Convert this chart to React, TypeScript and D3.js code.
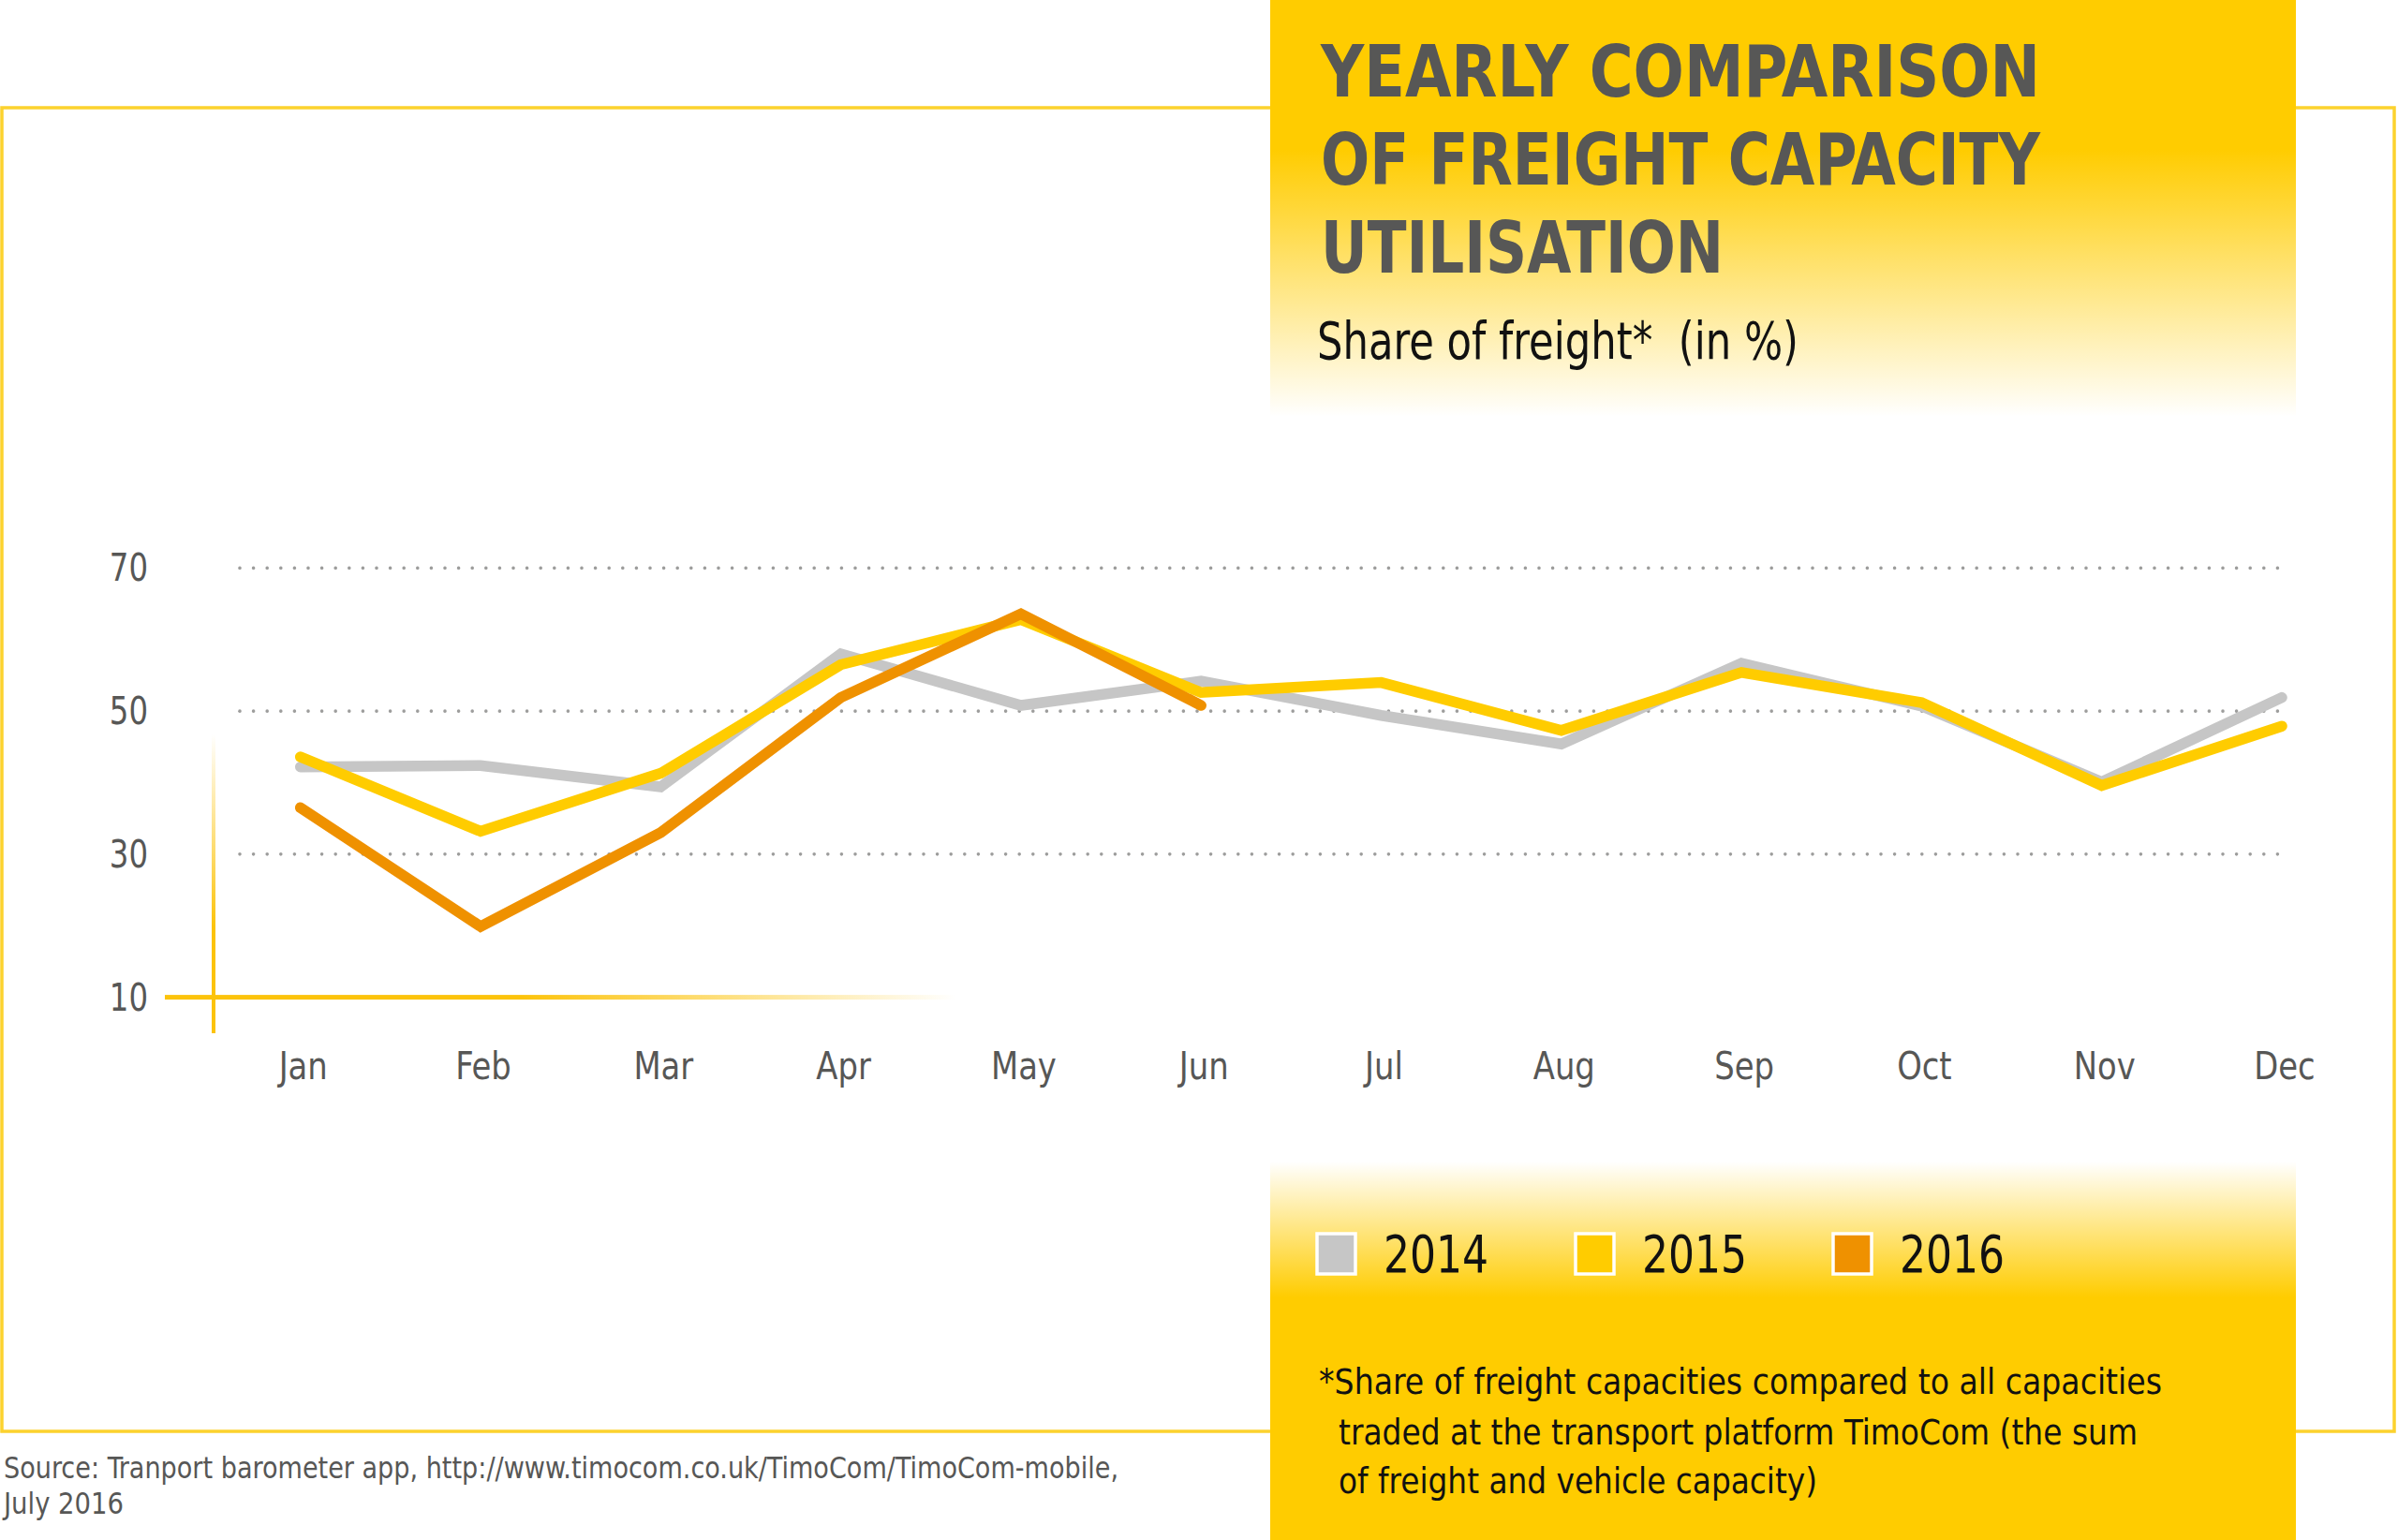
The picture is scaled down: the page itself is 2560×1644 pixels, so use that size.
import React, { useRef, useEffect } from 'react';
import * as d3 from 'd3';

// Share of freight capacities per month (in %)
const MONTHS = ['Jan', 'Feb', 'Mar', 'Apr', 'May', 'Jun', 'Jul', 'Aug', 'Sep', 'Oct', 'Nov', 'Dec'];
const SHARE_2014 = [42.2, 42.4, 39.4, 58.0, 50.8, 54.2, 49.4, 45.4, 56.7, 50.7, 40.1, 51.9];
const SHARE_2015 = [43.6, 33.2, 41.3, 56.5, 62.8, 52.6, 54.0, 47.3, 55.4, 51.2, 39.6, 47.9];
const SHARE_2016 = [36.5, 19.9, 33.0, 51.9, 63.6, 50.8];
const YEARS = ['2014', '2015', '2016'];
const Y_TICKS = [10, 30, 50, 70];
const GRID_TICKS = [30, 50, 70];

const TITLE_LINES = ['YEARLY COMPARISON', 'OF FREIGHT CAPACITY', 'UTILISATION'];
const SUBTITLE = 'Share of freight*\u00a0 (in %)';
const FOOTNOTE_LINES = [
  '*Share of freight capacities compared to all capacities',
  'traded at the transport platform TimoCom (the sum',
  'of freight and vehicle capacity)',
];
const SOURCE_LINES = [
  'Source: Tranport barometer app, http://www.timocom.co.uk/TimoCom/TimoCom-mobile,',
  'July 2016',
];

const W = 2560;
const H = 1644;
const FONT = '"DejaVu Sans Condensed", "DejaVu Sans", sans-serif';
const TEXT_GREY = '#575756';
const YELLOW = '#ffcc00';
const COLORS: Record<string, string> = { '2014': '#c6c6c6', '2015': '#ffcc00', '2016': '#ef9100' };

export default function App() {
  const svgRef = useRef<SVGSVGElement>(null);

  useEffect(() => {
    if (!svgRef.current) return;
    const svg = d3.select(svgRef.current);
    svg.selectAll('*').remove();

    svg.append('rect').attr('width', W).attr('height', H).attr('fill', '#ffffff');

    const defs = svg.append('defs');
    const grad = (id: string, x1: number, y1: number, x2: number, y2: number, stops: [number, string, number][]) => {
      const lg = defs.append('linearGradient').attr('id', id)
        .attr('gradientUnits', 'userSpaceOnUse')
        .attr('x1', x1).attr('y1', y1).attr('x2', x2).attr('y2', y2);
      stops.forEach(([o, c, a]) => lg.append('stop').attr('offset', o).attr('stop-color', c).attr('stop-opacity', a));
    };
    grad('titleFade', 0, 160, 0, 445, [[0, YELLOW, 1], [1, YELLOW, 0]]);
    grad('legendFade', 0, 1240, 0, 1385, [[0, YELLOW, 0], [1, YELLOW, 1]]);
    grad('xAxisFade', 176, 0, 1020, 0, [[0, '#fcc30b', 1], [0.45, '#fcc30b', 1], [1, '#fcc30b', 0]]);
    grad('yAxisFade', 0, 1103, 0, 784, [[0, '#fcc30b', 1], [0.35, '#fcc30b', 1], [1, '#fcc30b', 0]]);

    // Outer frame
    svg.append('rect')
      .attr('x', 2).attr('y', 115).attr('width', 2554).attr('height', 1413)
      .attr('fill', 'none').attr('stroke', '#fcd22e').attr('stroke-width', 3.5);

    // Scales
    const x = d3.scalePoint<string>().domain(MONTHS).range([320.7, 2436]);
    const y = d3.scaleLinear().domain([10, 70]).range([1064.6, 606.4]);

    const g = svg.append('g');

    // Dotted grid lines
    g.selectAll('line.grid')
      .data(GRID_TICKS)
      .join('line')
      .attr('class', 'grid')
      .attr('x1', 256).attr('x2', 2444)
      .attr('y1', d => y(d)).attr('y2', d => y(d))
      .attr('stroke', '#9d9d9c').attr('stroke-width', 3.6)
      .attr('stroke-linecap', 'round').attr('stroke-dasharray', '0 14.6');

    // Faded axis lines
    g.append('rect')
      .attr('x', 176).attr('y', y(10) - 2.5).attr('width', 844).attr('height', 5)
      .attr('fill', 'url(#xAxisFade)');
    g.append('rect')
      .attr('x', 226).attr('y', 784).attr('width', 4).attr('height', 319)
      .attr('fill', 'url(#yAxisFade)');

    // Y tick labels
    g.selectAll('text.ytick')
      .data(Y_TICKS)
      .join('text')
      .attr('class', 'ytick')
      .attr('transform', d => `translate(158,${y(d) + 14}) scale(0.9,1)`)
      .attr('text-anchor', 'end')
      .attr('font-family', FONT).attr('font-stretch', 'condensed')
      .attr('font-size', 40).attr('fill', TEXT_GREY)
      .text(d => String(d));

    // X tick labels
    g.selectAll('text.xtick')
      .data(MONTHS)
      .join('text')
      .attr('class', 'xtick')
      .attr('transform', d => `translate(${(x(d) as number) + 3},1152) scale(0.94,1)`)
      .attr('text-anchor', 'middle')
      .attr('font-family', FONT).attr('font-stretch', 'condensed')
      .attr('font-size', 40).attr('fill', TEXT_GREY)
      .text(d => d);

    // Series lines
    const series = [
      { year: YEARS[0], values: SHARE_2014 },
      { year: YEARS[1], values: SHARE_2015 },
      { year: YEARS[2], values: SHARE_2016 },
    ];
    const line = d3.line<number>()
      .x((_, i) => x(MONTHS[i]) as number)
      .y(d => y(d));
    series.forEach(s => {
      g.append('path')
        .datum(s.values)
        .attr('d', line)
        .attr('fill', 'none')
        .attr('stroke', COLORS[s.year])
        .attr('stroke-width', 11.5)
        .attr('stroke-linecap', 'round')
        .attr('stroke-linejoin', 'miter');
    });

    const label = (sel: d3.Selection<SVGTextElement, unknown, null, undefined>, size: number, width: number) =>
      sel.attr('font-family', FONT).attr('font-stretch', 'condensed').attr('font-size', size)
        .attr('textLength', width).attr('lengthAdjust', 'spacingAndGlyphs');

    // Title panel
    svg.append('rect')
      .attr('x', 1356).attr('y', 0).attr('width', 1095).attr('height', 446)
      .attr('fill', 'url(#titleFade)');
    const titleBaselines = [103, 197, 291];
    const titleWidths = [768, 768, 430];
    TITLE_LINES.forEach((t, i) => {
      const el = svg.append('text')
        .attr('x', 1410).attr('y', titleBaselines[i])
        .attr('font-weight', 700).attr('fill', TEXT_GREY)
        .text(t);
      label(el, 76, titleWidths[i]);
    });
    label(
      svg.append('text').attr('x', 1406).attr('y', 383).attr('fill', '#111111').text(SUBTITLE),
      55, 514,
    );

    // Legend panel
    svg.append('rect')
      .attr('x', 1356).attr('y', 1240).attr('width', 1095).attr('height', H - 1240)
      .attr('fill', 'url(#legendFade)');
    const swatchX = [1406, 1682, 1957];
    YEARS.forEach((yr, i) => {
      svg.append('rect')
        .attr('x', swatchX[i]).attr('y', 1317).attr('width', 41).attr('height', 43)
        .attr('fill', COLORS[yr]).attr('stroke', '#ffffff').attr('stroke-width', 3.5);
      label(
        svg.append('text').attr('x', swatchX[i] + 71).attr('y', 1358).attr('fill', '#111111').text(yr),
        56, 112,
      );
    });

    // Footnote
    const footX = [1408, 1429, 1429];
    const footY = [1488, 1542, 1594];
    const footW = [900, 853, 511];
    FOOTNOTE_LINES.forEach((t, i) => {
      label(
        svg.append('text').attr('x', footX[i]).attr('y', footY[i]).attr('fill', '#111111').text(t),
        37, footW[i],
      );
    });

    // Source
    const srcY = [1578, 1616];
    const srcW = [1190, 128];
    SOURCE_LINES.forEach((t, i) => {
      label(
        svg.append('text').attr('x', 4).attr('y', srcY[i]).attr('fill', TEXT_GREY).text(t),
        32.5, srcW[i],
      );
    });
  }, []);

  return (
    <svg
      ref={svgRef}
      width={W}
      height={H}
      style={{ position: 'absolute', left: 0, top: 0, display: 'block' }}
    />
  );
}
